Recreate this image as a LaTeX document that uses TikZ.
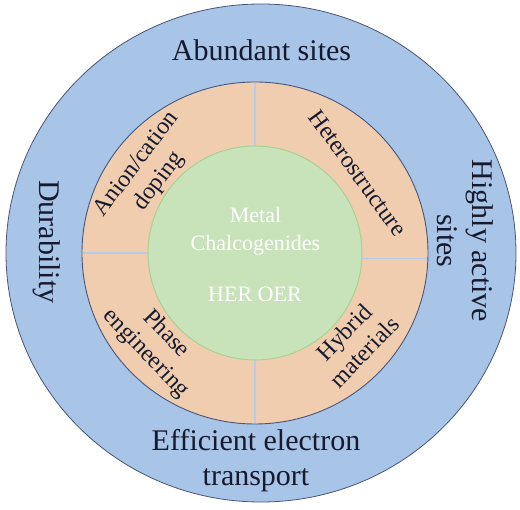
\documentclass[tikz,border=0pt]{standalone}
\usepackage{fontspec}
\setmainfont{Liberation Serif}
\usepackage{tikz}
\usetikzlibrary{positioning}
\usepackage{xcolor}
\definecolor{softblue}{RGB}{168,196,230}
\definecolor{softedge}{RGB}{70,86,124}
\definecolor{softpeach}{RGB}{241,205,175}
\definecolor{softgreen}{RGB}{200,227,185}
\definecolor{greenedge}{RGB}{168,210,146}
\definecolor{ink}{RGB}{22,26,46}

\begin{document}
\begin{tikzpicture}[x=1pt, y=1pt,
  outertext/.style={ink, align=center, font=\fontsize{30}{35}\selectfont},
  innertext/.style={ink, align=center, font=\fontsize{24}{28}\selectfont},
  coretext/.style={white, align=center, font=\fontsize{22}{28}\selectfont},
  divider/.style={softblue!85!white, line width=1.6pt}]
  \useasboundingbox (-255,-257) rectangle (265,253);
  % rings
  \filldraw[fill=softblue, draw=softedge, line width=0.8pt] (6,0) ellipse (255 and 249);
  \filldraw[fill=softpeach, draw=softedge, line width=0.9pt] (0,0) ellipse (173 and 171);
  \draw[divider] (0,170) -- (0,107);
  \draw[divider] (0,-107) -- (0,-170);
  \draw[divider] (-172,0) -- (-107,0);
  \draw[divider] (107,-5.5) -- (172,-5.5);
  \filldraw[fill=softgreen, draw=greenedge, line width=1pt] (0,0) circle (107);
  % outer ring labels
  \node[outertext, anchor=base] (sites) at (6.5,192) {Abundant sites};
  \node[outertext, rotate=-90] (active) at (210,12) {Highly active\\sites};
  \node[outertext] (transport) at (1,-208) {Efficient electron\\transport};
  \node[outertext, rotate=-90] (durability) at (-208,11) {Durability};
  % strategies
  \node[innertext, rotate=-54] (hetero) at (103,80) {Heterostructure};
  \node[innertext, rotate=53] (doping) at (-107,80) {Anion/cation\\doping};
  \node[innertext, rotate=-46] (phase) at (-99,-91) {Phase\\engineering};
  \node[innertext, rotate=46] (hybrid) at (99,-89) {Hybrid\\materials};
  % core
  \node[coretext] (metal) at (0.5,22) {Metal\\Chalcogenides};
  \node[coretext, anchor=base] (her) at (0,-49) {HER OER};
\end{tikzpicture}
\end{document}
